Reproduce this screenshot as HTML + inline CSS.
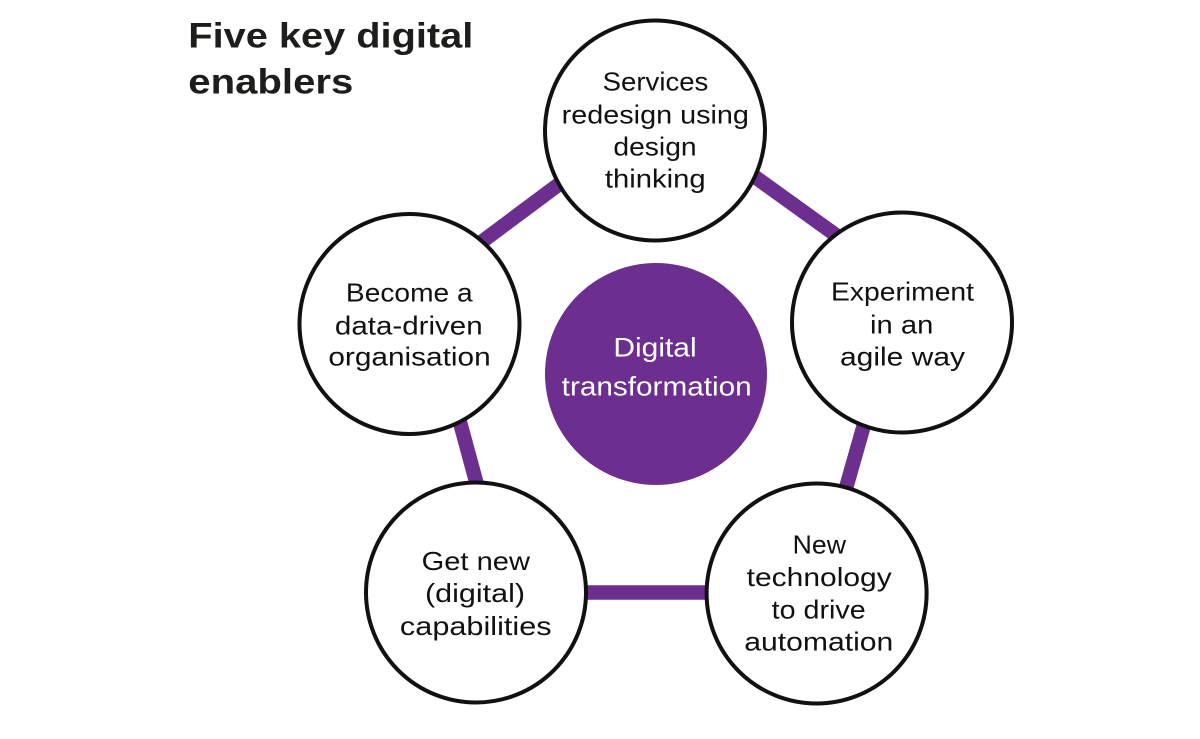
<!DOCTYPE html>
<html>
<head>
<meta charset="utf-8">
<style>
  html, body { margin: 0; padding: 0; background: #ffffff; }
  svg { display: block; }
  text { font-family: "Liberation Sans", "DejaVu Sans", sans-serif; }
</style>
</head>
<body>
<svg width="1200" height="739" viewBox="0 0 1200 739" xmlns="http://www.w3.org/2000/svg">
  <rect x="0" y="0" width="1200" height="739" fill="#ffffff"/>

  <!-- Title -->
  <text x="188.3" y="47.5" font-size="35" font-weight="bold" fill="#1d1d1b" textLength="285" lengthAdjust="spacingAndGlyphs">Five key digital</text>
  <text x="188.3" y="93.5" font-size="35" font-weight="bold" fill="#1d1d1b" textLength="165" lengthAdjust="spacingAndGlyphs">enablers</text>

  <!-- Connectors -->
  <g stroke="#6c2e8f" stroke-width="14.5" stroke-linecap="butt" fill="none">
    <line x1="473" y1="248.3" x2="568.7" y2="177"/>
    <line x1="746.1" y1="170.5" x2="846.5" y2="242.8"/>
    <line x1="456.8" y1="410.5" x2="479.6" y2="494.5"/>
    <line x1="867.1" y1="413.9" x2="843.7" y2="496.1"/>
    <line x1="575" y1="592.5" x2="718" y2="592.5"/>
  </g>

  <!-- Outer circles -->
  <g fill="#ffffff" stroke="#111111" stroke-width="4">
    <circle cx="655" cy="130.5" r="110"/>
    <circle cx="409.5" cy="324" r="110"/>
    <circle cx="902" cy="322.5" r="110"/>
    <circle cx="476" cy="592.5" r="110"/>
    <circle cx="816.6" cy="593.5" r="110"/>
  </g>

  <!-- Center circle -->
  <circle cx="656" cy="374" r="111" fill="#6c2e8f"/>

  <!-- Top circle text -->
  <g font-size="26" fill="#111111" text-anchor="middle">
    <text x="655.5" y="90.7" textLength="105.7" lengthAdjust="spacingAndGlyphs">Services</text>
    <text x="655.3" y="123.3" textLength="187.3" lengthAdjust="spacingAndGlyphs">redesign using</text>
    <text x="655" y="155.7" textLength="83.3" lengthAdjust="spacingAndGlyphs">design</text>
    <text x="655.3" y="187.3" textLength="100.7" lengthAdjust="spacingAndGlyphs">thinking</text>
  </g>

  <!-- Left circle text -->
  <g font-size="26" fill="#111111" text-anchor="middle">
    <text x="409.3" y="301.7" textLength="126.7" lengthAdjust="spacingAndGlyphs">Become a</text>
    <text x="408.8" y="334.3" textLength="147.7" lengthAdjust="spacingAndGlyphs">data-driven</text>
    <text x="409.5" y="365.7" textLength="162.3" lengthAdjust="spacingAndGlyphs">organisation</text>
  </g>

  <!-- Right circle text -->
  <g font-size="26" fill="#111111" text-anchor="middle">
    <text x="902.5" y="300.7" textLength="143" lengthAdjust="spacingAndGlyphs">Experiment</text>
    <text x="901.7" y="333.3" textLength="63.3" lengthAdjust="spacingAndGlyphs">in an</text>
    <text x="902.5" y="365.7" textLength="125" lengthAdjust="spacingAndGlyphs">agile way</text>
  </g>

  <!-- Bottom-left circle text -->
  <g font-size="26" fill="#111111" text-anchor="middle">
    <text x="475.8" y="570" textLength="108.3" lengthAdjust="spacingAndGlyphs">Get new</text>
    <text x="475" y="602" textLength="100" lengthAdjust="spacingAndGlyphs">(digital)</text>
    <text x="475.8" y="635" textLength="151.7" lengthAdjust="spacingAndGlyphs">capabilities</text>
  </g>

  <!-- Bottom-right circle text -->
  <g font-size="26" fill="#111111" text-anchor="middle">
    <text x="819.3" y="553.3" textLength="53.3" lengthAdjust="spacingAndGlyphs">New</text>
    <text x="819.2" y="586" textLength="145" lengthAdjust="spacingAndGlyphs">technology</text>
    <text x="818.7" y="618.3" textLength="94" lengthAdjust="spacingAndGlyphs">to drive</text>
    <text x="818.8" y="650.7" textLength="149" lengthAdjust="spacingAndGlyphs">automation</text>
  </g>

  <!-- Center text -->
  <g font-size="27" fill="#ffffff" text-anchor="middle">
    <text x="655" y="356.7" textLength="83.3" lengthAdjust="spacingAndGlyphs">Digital</text>
    <text x="656.7" y="395.7" textLength="190" lengthAdjust="spacingAndGlyphs">transformation</text>
  </g>
</svg>
</body>
</html>
